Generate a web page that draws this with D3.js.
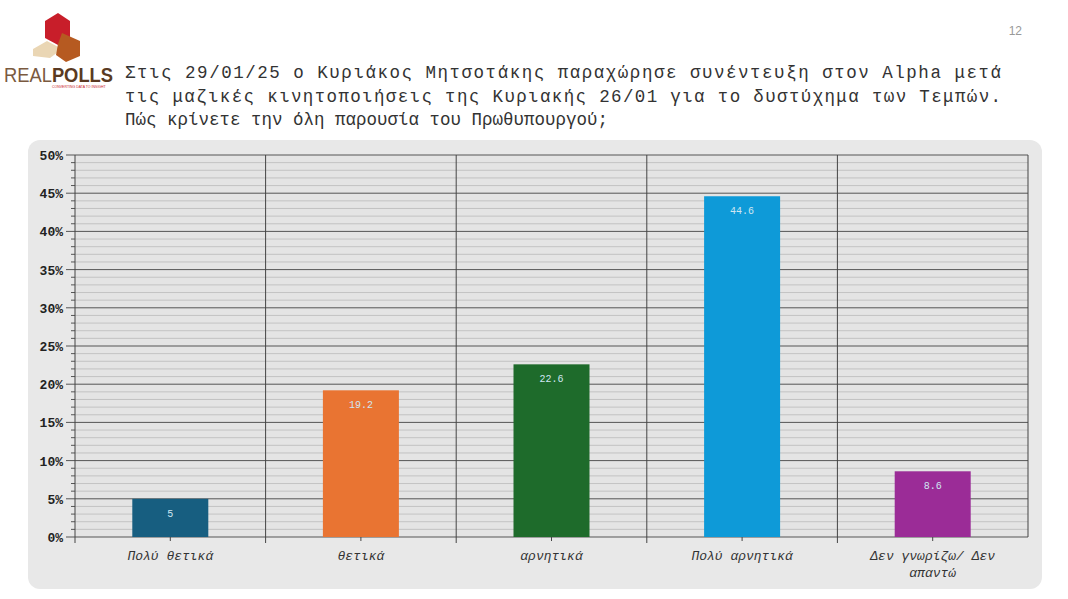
<!DOCTYPE html><html><head><meta charset="utf-8"><script src="https://cdn.jsdelivr.net/npm/d3@7"></script>
<style>body{margin:0;background:#fff}</style></head><body><svg id="c" width="1068" height="599"></svg>
<script>
const categories=["Πολύ θετικά","θετικά","αρνητικά","Πολύ αρνητικά","Δεν γνωρίζω/ Δεν|απαντώ"];
const values=[5,19.2,22.6,44.6,8.6];
const colors=["#175e80","#e97432","#1e6b2b","#0e9ad8","#9b2c97"];
const yTicks=[0,5,10,15,20,25,30,35,40,45,50];
const titleLines=["Στις 29/01/25 ο Κυριάκος Μητσοτάκης παραχώρησε συνέντευξη στον Alpha μετά","τις μαζικές κινητοποιήσεις της Κυριακής 26/01 για το δυστύχημα των Τεμπών.","Πώς κρίνετε την όλη παρουσία του Πρωθυπουργού;"];
const svg=d3.select("#c");
const mono="'Liberation Mono','DejaVu Sans Mono',monospace";
svg.append("text").attr("x",1022).attr("y",35).attr("text-anchor","end").attr("font-family","Arial").attr("font-size",12).attr("fill","#999").text("12");
// logo
const g=svg.append("g");
g.append("polygon").attr("points","45,21 58,13 70,21 70,38 58,45 45,38").attr("fill","#c81e2a");
g.append("polygon").attr("points","33,49 47,41 62,49 50,58 33,56").attr("fill","#ead6b4");
g.append("polygon").attr("points","62,33 80,41 80,56 66,62 56,55 58,44").attr("fill","#b65a21");
g.append("text").attr("x",4).attr("y",82).attr("font-family","Arial").attr("font-size",20).attr("textLength",109).attr("lengthAdjust","spacingAndGlyphs").attr("fill","#7a5a40").html("REAL<tspan font-weight='bold' fill='#5a3a22'>POLLS</tspan>");
g.append("text").attr("x",52).attr("y",88).attr("font-family","Arial").attr("font-size",3.5).attr("fill","#c81e2a").text("CONVERTING DATA TO INSIGHT");
titleLines.forEach((t,i)=>svg.append("text").attr("x",125).attr("y",78+i*23.5).attr("font-family",mono).attr("font-size",17.5).attr("fill","#333").attr("textLength",i==2?null:876).text(t));
svg.append("rect").attr("x",28).attr("y",140).attr("width",1014).attr("height",449).attr("rx",12).attr("fill","#e8e8e8");
const x=d3.scaleBand().domain(categories).range([75,1028]);
const y=d3.scaleLinear().domain([0,50]).range([537,155]);
const p=svg.append("g");
p.append("rect").attr("x",75).attr("y",155).attr("width",953).attr("height",382).attr("fill","#e4e4e4");
p.selectAll(".mn").data(d3.range(0,51)).join("line").attr("x1",75).attr("x2",1028).attr("y1",d=>y(d)).attr("y2",d=>y(d)).attr("stroke",d=>d%5==0?"#555":"#b4b4b4").attr("stroke-width",d=>d%5==0?1:0.7);
p.selectAll(".tk").data(d3.range(0,51)).join("line").attr("x1",d=>d%5==0?66:71).attr("x2",75).attr("y1",d=>y(d)).attr("y2",d=>y(d)).attr("stroke","#555");
p.selectAll(".vl").data(categories.slice(1)).join("line").attr("x1",d=>x(d)).attr("x2",d=>x(d)).attr("y1",155).attr("y2",543).attr("stroke","#444");
p.append("line").attr("x1",75).attr("x2",75).attr("y1",155).attr("y2",543).attr("stroke","#444");
p.append("line").attr("x1",1028).attr("x2",1028).attr("y1",155).attr("y2",537).attr("stroke","#444");
p.selectAll(".yl").data(yTicks).join("text").attr("x",63).attr("y",d=>y(d)+5).attr("text-anchor","end").attr("font-family",mono).attr("font-weight","bold").attr("font-size",13).attr("fill","#222").text(d=>d+"%");
const bw=76;
p.selectAll(".b").data(values).join("rect").attr("x",(d,i)=>x(categories[i])+x.bandwidth()/2-bw/2).attr("width",bw).attr("y",d=>y(d)).attr("height",d=>537-y(d)).attr("fill",(d,i)=>colors[i]);
p.selectAll(".bl").data(values).join("text").attr("x",(d,i)=>x(categories[i])+x.bandwidth()/2).attr("y",d=>y(d)+18).attr("text-anchor","middle").attr("font-family",mono).attr("font-size",10).attr("fill","#cfe6f2").text(d=>d);
p.selectAll(".xt").data(categories).join("line").attr("x1",d=>x(d)+x.bandwidth()/2).attr("x2",d=>x(d)+x.bandwidth()/2).attr("y1",537).attr("y2",541).attr("stroke","#444");
categories.forEach(c=>c.split("|").forEach((s,j)=>p.append("text").attr("x",x(c)+x.bandwidth()/2).attr("y",560+j*17).attr("text-anchor","middle").attr("font-family",mono).attr("font-style","italic").attr("font-size",13).attr("fill","#333").text(s)));
</script></body></html>
